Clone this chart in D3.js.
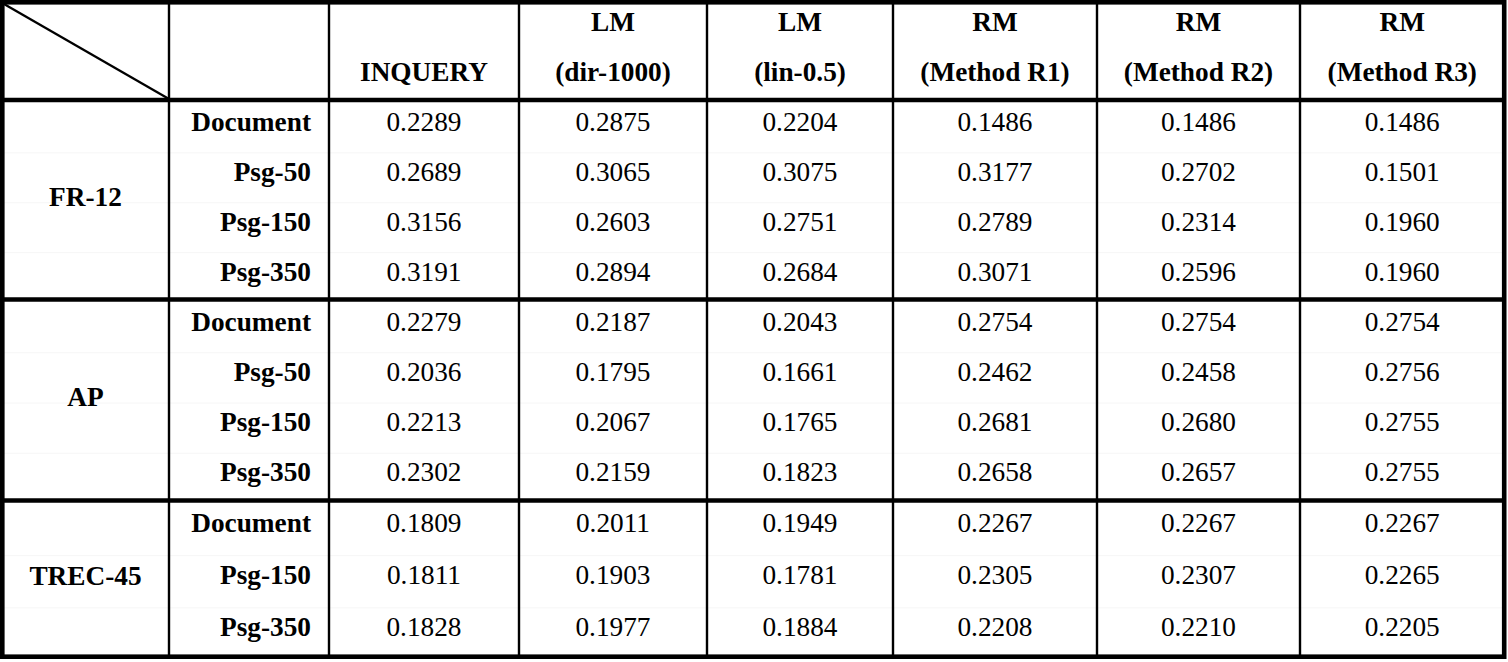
<!DOCTYPE html>
<html>
<head>
<meta charset="utf-8">
<script src="https://cdn.jsdelivr.net/npm/d3@7"></script>
<style>
  html, body { margin: 0; padding: 0; background: #fff; }
  svg { display: block; }
  text { font-family: "Liberation Serif", "Times New Roman", serif; fill: #000; }
</style>
</head>
<body>
<div id="table"></div>
<script>

// header text, two lines per method column
var headLine1 = ['', 'LM', 'LM', 'RM', 'RM', 'RM'];
var headLine2 = ['INQUERY', '(dir-1000)', '(lin-0.5)', '(Method R1)', '(Method R2)', '(Method R3)'];

var collections = ['FR-12', 'AP', 'TREC-45'];
var runs = [
  ['Document', 'Psg-50', 'Psg-150', 'Psg-350'],
  ['Document', 'Psg-50', 'Psg-150', 'Psg-350'],
  ['Document', 'Psg-150', 'Psg-350']
];

// one array per method, rows in order FR-12, AP, TREC-45
var inquery = [0.2289, 0.2689, 0.3156, 0.3191, 0.2279, 0.2036, 0.2213, 0.2302, 0.1809, 0.1811, 0.1828];
var lmDir   = [0.2875, 0.3065, 0.2603, 0.2894, 0.2187, 0.1795, 0.2067, 0.2159, 0.2011, 0.1903, 0.1977];
var lmLin   = [0.2204, 0.3075, 0.2751, 0.2684, 0.2043, 0.1661, 0.1765, 0.1823, 0.1949, 0.1781, 0.1884];
var rmR1    = [0.1486, 0.3177, 0.2789, 0.3071, 0.2754, 0.2462, 0.2681, 0.2658, 0.2267, 0.2305, 0.2208];
var rmR2    = [0.1486, 0.2702, 0.2314, 0.2596, 0.2754, 0.2458, 0.2680, 0.2657, 0.2267, 0.2307, 0.2210];
var rmR3    = [0.1486, 0.1501, 0.1960, 0.1960, 0.2754, 0.2756, 0.2755, 0.2755, 0.2267, 0.2265, 0.2205];

var series = [inquery, lmDir, lmLin, rmR1, rmR2, rmR3];

var W = 1508, H = 662;
var fontSize = 27.3;
var fmt = d3.format('.4f');

// layout: column edges and group edges (pixels)
var colEdges = [2, 169, 329, 519, 707, 893, 1097, 1300, 1504.5];
var groupEdges = [100, 299.5, 500.5, 657];
var headTop = 2;

var svg = d3.select('#table').append('svg')
  .attr('width', W)
  .attr('height', H);

// flat list of body rows with their y band
var rows = [];
var k = 0;
collections.forEach(function(c, gi) {
  var band = d3.scaleBand()
    .domain(runs[gi])
    .range([groupEdges[gi], groupEdges[gi + 1]]);
  runs[gi].forEach(function(r) {
    rows.push({group: gi, run: r, idx: k, y0: band(r), h: band.bandwidth()});
    k++;
  });
});

var colCenter = function(i) { return (colEdges[i] + colEdges[i + 1]) / 2; };

// faint row rules (scan artefacts in the original)
svg.append('g').selectAll('line')
  .data(rows.filter(function(d, i) { return i > 0 && rows[i - 1].group == d.group; }))
  .enter().append('line')
  .attr('x1', colEdges[0]).attr('x2', colEdges[colEdges.length - 1])
  .attr('y1', function(d) { return d.y0 + 3; })
  .attr('y2', function(d) { return d.y0 + 3; })
  .attr('stroke', '#f6f6f6')
  .attr('stroke-width', 1);

// thin vertical column lines
svg.append('g').selectAll('line')
  .data(colEdges.slice(1, -1))
  .enter().append('line')
  .attr('x1', function(d) { return d; })
  .attr('x2', function(d) { return d; })
  .attr('y1', headTop).attr('y2', groupEdges[groupEdges.length - 1])
  .attr('stroke', '#000')
  .attr('stroke-width', 2.4);

// thick horizontal rules: header bottom and group separators
svg.append('g').selectAll('line')
  .data(groupEdges.slice(0, -1))
  .enter().append('line')
  .attr('x1', colEdges[0]).attr('x2', colEdges[colEdges.length - 1])
  .attr('y1', function(d) { return d; })
  .attr('y2', function(d) { return d; })
  .attr('stroke', '#000')
  .attr('stroke-width', 4.6);

// outer frame
svg.append('rect')
  .attr('x', colEdges[0] + 0.3)
  .attr('y', headTop + 0.3)
  .attr('width', colEdges[colEdges.length - 1] - colEdges[0] - 0.6)
  .attr('height', groupEdges[groupEdges.length - 1] - headTop - 0.6)
  .attr('fill', 'none')
  .attr('stroke', '#000')
  .attr('stroke-width', 4.6);

// diagonal in the corner cell
svg.append('line')
  .attr('x1', colEdges[0] + 2).attr('y1', headTop + 2)
  .attr('x2', colEdges[1]).attr('y2', groupEdges[0] - 1)
  .attr('stroke', '#000')
  .attr('stroke-width', 2.3);

// header text
var head = svg.append('g')
  .attr('font-weight', 'bold')
  .attr('font-size', fontSize)
  .attr('text-anchor', 'middle');

head.selectAll('.h1')
  .data(headLine1)
  .enter().append('text')
  .attr('class', 'h1')
  .attr('x', function(d, i) { return colCenter(i + 2); })
  .attr('y', 31)
  .text(function(d) { return d; });

head.selectAll('.h2')
  .data(headLine2)
  .enter().append('text')
  .attr('class', 'h2')
  .attr('x', function(d, i) { return colCenter(i + 2); })
  .attr('y', 81)
  .text(function(d) { return d; });

// collection labels, centred in each group
svg.append('g')
  .attr('font-weight', 'bold')
  .attr('font-size', fontSize)
  .attr('text-anchor', 'middle')
  .selectAll('text')
  .data(collections)
  .enter().append('text')
  .attr('x', colCenter(0))
  .attr('y', function(d, i) { return (groupEdges[i] + groupEdges[i + 1]) / 2 + 6; })
  .text(function(d) { return d; });

// run labels, right aligned
svg.append('g')
  .attr('font-weight', 'bold')
  .attr('font-size', fontSize)
  .attr('text-anchor', 'end')
  .selectAll('text')
  .data(rows)
  .enter().append('text')
  .attr('x', colEdges[2] - 18)
  .attr('y', function(d) { return d.y0 + 31; })
  .text(function(d) { return d.run; });

// values
var cells = svg.append('g')
  .attr('font-size', fontSize)
  .attr('text-anchor', 'middle');

series.forEach(function(vals, si) {
  cells.selectAll('.c' + si)
    .data(vals)
    .enter().append('text')
    .attr('class', 'c' + si)
    .attr('x', colCenter(si + 2))
    .attr('y', function(d, i) { return rows[i].y0 + 31; })
    .text(function(d) { return fmt(d); });
});

</script>
</body>
</html>
